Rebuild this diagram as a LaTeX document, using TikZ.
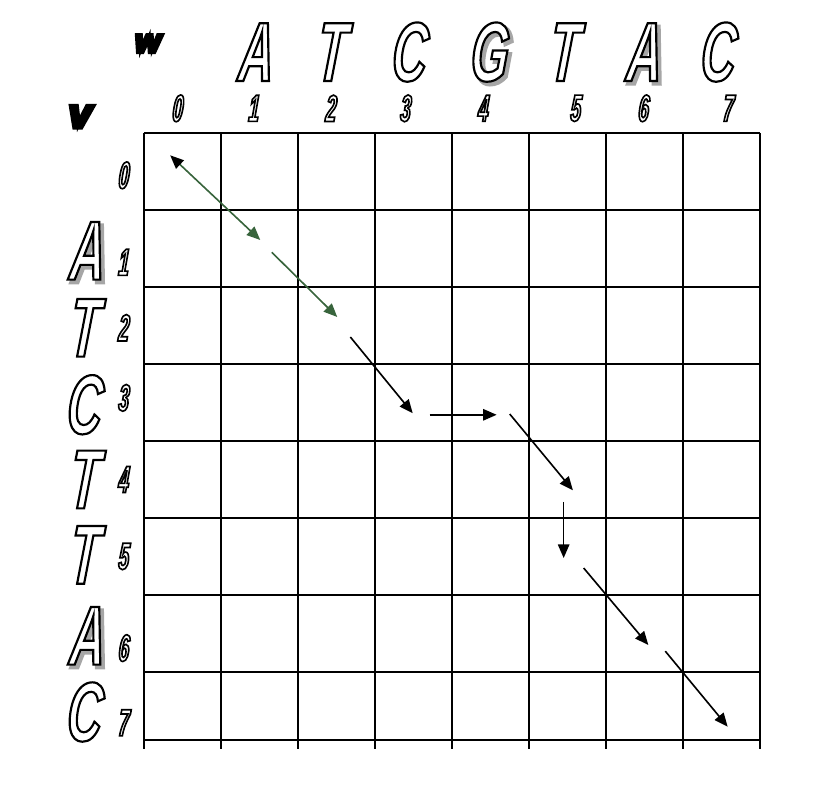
\documentclass[tikz,border=0pt]{standalone}
\usepackage{fontspec}
\setmainfont{Liberation Sans}
\newfontfamily\letterfont[FakeStretch=0.58,FakeSlant=0.08]{Liberation Sans}
\newfontfamily\digitfont[FakeStretch=0.5,FakeSlant=0.08]{Liberation Sans}
\usetikzlibrary{arrows.meta}
\definecolor{pathgreen}{RGB}{56,100,60}

% outlined, shadow and heavy text through the text render mode
\newcommand{\hollow}[2][0.8]{\special{pdf:literal direct 2 Tr #1 w 0 0 0 RG 1 1 1 rg}#2\special{pdf:literal direct 0 Tr 0 g 0 G}}
\newcommand{\shadowtxt}[1]{\special{pdf:literal direct 2 Tr 1.2 w 0.65 0.65 0.65 RG 0.65 0.65 0.65 rg}#1\special{pdf:literal direct 0 Tr 0 g 0 G}}
\newcommand{\heavy}[2][1.4]{\special{pdf:literal direct 2 Tr #1 w 0 0 0 RG 0 0 0 rg}#2\special{pdf:literal direct 0 Tr 0 g 0 G}}

\begin{document}
\begin{tikzpicture}
            [x=1cm, y=-1cm,
            letter/.style={inner sep=0pt, font=\letterfont\bfseries\itshape\fontsize{31}{31}\selectfont},
            shade/.style={letter},
            digit/.style={inner sep=0pt, font=\digitfont\bfseries\itshape\fontsize{14}{14}\selectfont},
            seqname/.style={inner sep=0pt},
            gridline/.style={black, line width=0.8pt},
            step1/.style={pathgreen, line width=0.6pt, -{Triangle[length=5pt, width=4.2pt]}},
            step2/.style={black, line width=0.6pt, -{Triangle[length=5pt, width=4.2pt]}}]

            \useasboundingbox (-1.870,-1.727) rectangle (9.013,8.636);

            % the grid
            \foreach \i in {0,...,8} \draw[gridline] (\i,0) -- (\i,8);
            \foreach \j in {0,...,7} \draw[gridline] (0,\j) -- (8,\j);
            \draw[gridline] (0,7.88) -- (8,7.88);

            % sequence names
            \node[seqname, font=\fontsize{12}{12}\selectfont\bfseries\itshape] (w) at (0.05,-1.16) {\heavy{w}};
            \node[seqname, font=\fontsize{15}{15}\selectfont\bfseries\itshape] (v) at (-0.83,-0.21) {\heavy[1.6]{v}};

            % letters of w
            \node[shade] (wG4s) at (4.51,-1.01) {\shadowtxt{G}};
            \node[shade] (wA6s) at (6.52,-1.01) {\shadowtxt{A}};
            \node[letter] (wA1) at (1.44,-1.05) {\hollow{A}};
            \node[letter] (wT2) at (2.42,-1.05) {\hollow{T}};
            \node[letter] (wC3) at (3.43,-1.05) {\hollow{C}};
            \node[letter] (wG4) at (4.47,-1.05) {\hollow{G}};
            \node[letter] (wT5) at (5.44,-1.05) {\hollow{T}};
            \node[letter] (wA6) at (6.48,-1.05) {\hollow{A}};
            \node[letter] (wC7) at (7.44,-1.05) {\hollow{C}};

            % letters of v
            \node[shade] (vA1s) at (-0.71,1.57) {\shadowtxt{A}};
            \node[shade] (vA6s) at (-0.71,6.57) {\shadowtxt{A}};
            \node[letter] (vA1) at (-0.75,1.53) {\hollow{A}};
            \node[letter] (vT2) at (-0.79,2.53) {\hollow{T}};
            \node[letter] (vC3) at (-0.79,3.53) {\hollow{C}};
            \node[letter] (vT4) at (-0.79,4.50) {\hollow{T}};
            \node[letter] (vT5) at (-0.79,5.48) {\hollow{T}};
            \node[letter] (vA6) at (-0.75,6.53) {\hollow{A}};
            \node[letter] (vC7) at (-0.79,7.52) {\hollow{C}};

            % column indices
            \node[digit] (c0) at (0.43,-0.32) {\hollow[0.6]{0}};
            \node[digit] (c1) at (1.42,-0.32) {\hollow[0.6]{1}};
            \node[digit] (c2) at (2.42,-0.32) {\hollow[0.6]{2}};
            \node[digit] (c3) at (3.39,-0.32) {\hollow[0.6]{3}};
            \node[digit] (c4) at (4.40,-0.32) {\hollow[0.6]{4}};
            \node[digit] (c5) at (5.60,-0.32) {\hollow[0.6]{5}};
            \node[digit] (c6) at (6.48,-0.32) {\hollow[0.6]{6}};
            \node[digit] (c7) at (7.58,-0.32) {\hollow[0.6]{7}};

            % row indices
            \node[digit] (r0) at (-0.27,0.55) {\hollow[0.6]{0}};
            \node[digit] (r1) at (-0.27,1.68) {\hollow[0.6]{1}};
            \node[digit] (r2) at (-0.27,2.53) {\hollow[0.6]{2}};
            \node[digit] (r3) at (-0.27,3.44) {\hollow[0.6]{3}};
            \node[digit] (r4) at (-0.27,4.50) {\hollow[0.6]{4}};
            \node[digit] (r5) at (-0.27,5.50) {\hollow[0.6]{5}};
            \node[digit] (r6) at (-0.27,6.69) {\hollow[0.6]{6}};
            \node[digit] (r7) at (-0.27,7.66) {\hollow[0.6]{7}};

            % alignment path
            \coordinate (p0) at (0.34,0.29);
            \coordinate (q0) at (1.51,1.39);
            \coordinate (p1) at (1.66,1.55);
            \coordinate (q1) at (2.51,2.39);
            \coordinate (p2) at (2.68,2.65);
            \coordinate (q2) at (3.49,3.64);
            \coordinate (p3) at (3.71,3.66);
            \coordinate (q3) at (4.58,3.66);
            \coordinate (p4) at (4.75,3.65);
            \coordinate (q4) at (5.57,4.64);
            \coordinate (p5) at (5.45,4.79);
            \coordinate (q5) at (5.45,5.52);
            \coordinate (p6) at (5.71,5.65);
            \coordinate (q6) at (6.55,6.65);
            \coordinate (p7) at (6.77,6.73);
            \coordinate (q7) at (7.58,7.71);

            \draw[step1, {Triangle[black, length=5pt, width=4.2pt]}-{Triangle[length=5pt, width=4.2pt]}] (p0) -- (q0);
            \draw[step1] (p1) -- (q1);
            \draw[step2] (p2) -- (q2);
            \draw[step2] (p3) -- (q3);
            \draw[step2] (p4) -- (q4);
            \draw[step2] (p5) -- (q5);
            \draw[step2] (p6) -- (q6);
            \draw[step2] (p7) -- (q7);

        \end{tikzpicture}
\end{document}
